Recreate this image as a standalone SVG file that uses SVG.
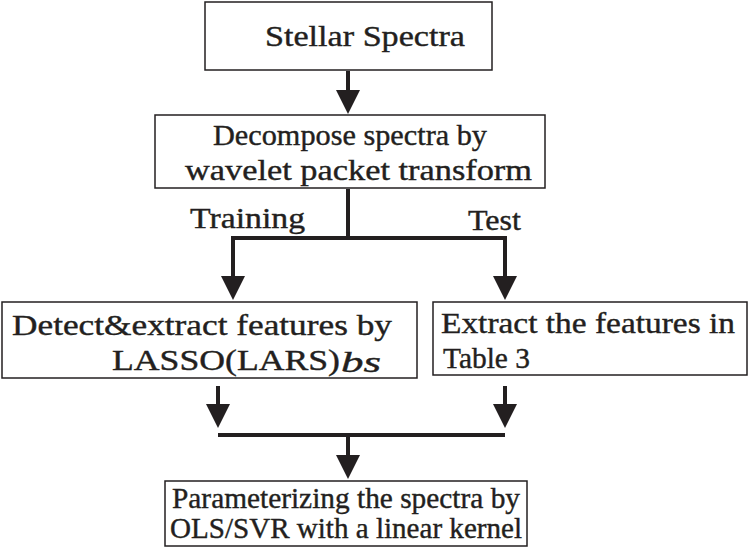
<svg xmlns="http://www.w3.org/2000/svg" width="751" height="548" viewBox="0 0 751 548">
<style>
.box{fill:#fff;stroke:#231f20;stroke-width:1.5}
.ln{stroke:#231f20;stroke-width:4;fill:none}
text{font-family:"Liberation Serif",serif;font-size:30px;fill:#231f20;stroke:#231f20;stroke-width:0.4}
</style>
<defs><marker id="ah" markerWidth="6" markerHeight="6" refX="5" refY="3" orient="auto" markerUnits="strokeWidth"><path d="M0,0L6,3L0,6Z" fill="#231f20"/></marker></defs>
<rect width="751" height="548" fill="#fff"/>
<g id="connectors">
<path class="ln" d="M348,71V110" marker-end="url(#ah)"/>
<path class="ln" d="M348,189V238M233,238H505"/>
<path class="ln" d="M233,236V296" marker-end="url(#ah)"/>
<path class="ln" d="M505,236V296" marker-end="url(#ah)"/>
<path class="ln" d="M218,386V424" marker-end="url(#ah)"/>
<path class="ln" d="M505,386V424" marker-end="url(#ah)"/>
<path class="ln" d="M218,435H505M348,435V475" marker-end="url(#ah)"/>
<text x="190" y="228" textLength="115" lengthAdjust="spacingAndGlyphs">Training</text>
<text x="468" y="230" textLength="53" lengthAdjust="spacingAndGlyphs">Test</text>
</g>
<g id="n1"><rect class="box" x="205" y="2" width="287" height="68"/><text x="265" y="46" textLength="200" lengthAdjust="spacingAndGlyphs">Stellar Spectra</text></g>
<g id="n2"><rect class="box" x="155" y="115" width="390" height="73"/><text x="213" y="145" textLength="274" lengthAdjust="spacingAndGlyphs">Decompose spectra by</text><text x="185" y="180" textLength="347" lengthAdjust="spacingAndGlyphs">wavelet packet transform</text></g>
<g id="n3"><rect class="box" x="2" y="302" width="415" height="76"/><text x="12" y="335" textLength="380" lengthAdjust="spacingAndGlyphs">Detect&amp;extract features by</text><text x="112" y="370" textLength="228" lengthAdjust="spacingAndGlyphs">LASSO(LARS)</text><text x="341" y="372" font-style="italic" font-size="38" textLength="40" lengthAdjust="spacingAndGlyphs">bs</text></g>
<g id="n4"><rect class="box" x="433" y="302" width="314" height="73"/><text x="441" y="333" textLength="294" lengthAdjust="spacingAndGlyphs">Extract the features in</text><text x="443" y="368" textLength="87" lengthAdjust="spacingAndGlyphs">Table 3</text></g>
<g id="n5"><rect class="box" x="165" y="481" width="362" height="65"/><text x="172" y="508" textLength="348" lengthAdjust="spacingAndGlyphs">Parameterizing the spectra by</text><text x="170" y="538" textLength="352" lengthAdjust="spacingAndGlyphs">OLS/SVR with a linear kernel</text></g>
</svg>
